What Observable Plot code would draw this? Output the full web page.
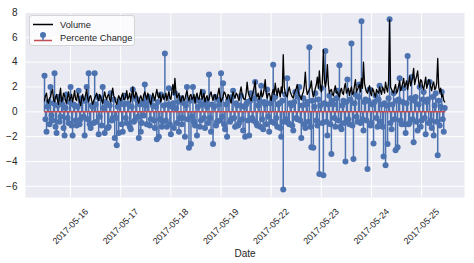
<!DOCTYPE html>
<html><head><meta charset="utf-8">
<script src="https://cdn.jsdelivr.net/npm/d3@7"></script>
<script src="https://cdn.jsdelivr.net/npm/@observablehq/plot@0.6"></script>
<style>
body{margin:0;background:#fff;font-family:"Liberation Sans",Arial,sans-serif;}
#wrap{position:relative;width:474px;height:263px;}
#legend{position:absolute;left:29px;top:15px;width:106px;height:31px;background:rgba(255,255,255,0.8);border:1px solid #d4d4d4;border-radius:3px;box-sizing:border-box;font-size:9.3px;color:#262626;}
#legend .row{position:absolute;left:0;height:13px;display:flex;align-items:center;}
#legend svg{display:block;}
#legend span{margin-left:6px;white-space:nowrap;}
</style></head>
<body><div id="wrap"><div id="chart"></div>
<div id="legend">
 <div class="row" style="top:2px;left:2px"><svg width="22" height="13"><line x1="1" x2="21" y1="6.5" y2="6.5" stroke="#000" stroke-width="1.5"/></svg><span>Volume</span></div>
 <div class="row" style="top:15px;left:2px"><svg width="22" height="13"><line x1="2" x2="20" y1="9.5" y2="9.5" stroke="#C44E52" stroke-width="1.5"/><line x1="11" x2="11" y1="9.5" y2="4" stroke="#4C72B0" stroke-width="1.5"/><circle cx="11" cy="4" r="3" fill="#4C72B0"/></svg><span>Percente Change</span></div>
</div></div>
<script>
const dateLabels = ["2017-05-16","2017-05-17","2017-05-18","2017-05-19","2017-05-22","2017-05-23","2017-05-24","2017-05-25"];
const tickPos = [0,1,2,3,4,5,6,7];
const yTicks = [-6,-4,-2,0,2,4,6,8];
const sampleStart = -0.518;
const sampleStep = 0.02;
const pctChange = [
 2.9,-0.6,-1.6,0.4,0.8,-1.0,2.0,-0.3,-0.7,0.7,3.1,-1.2,-1.7,0.5,1.2,-0.8,-0.4,1.0,0.6,-1.3,-1.9,0.3,1.4,-0.5,-0.9,0.8,2.0,-1.1,-1.9,0.6,0.5,-0.7,-1.1,0.4,1.7,-1.0,-0.6,1.1,0.9,-0.4,
 -1.9,0.9,2.0,-0.6,3.1,-1.0,-1.3,0.5,0.4,-0.9,3.1,0.6,-0.8,1.2,-1.8,-0.4,1.1,-1.1,2.0,0.3,-1.7,0.8,0.7,-1.3,-1.2,0.5,1.5,-0.7,-0.5,1.0,-2.1,-0.5,-2.7,0.4,-1.7,0.7,0.9,-1.0,-1.6,0.6,
 1.3,-0.5,-0.9,0.7,0.6,-1.2,-1.4,0.4,1.8,-0.8,-0.7,1.1,1.0,-0.4,-2.1,0.6,-1.6,-0.9,0.8,-0.3,2.2,0.5,-1.0,0.9,1.2,-1.1,-0.6,1.0,0.5,-0.7,-1.3,0.4,-2.2,0.8,-2.0,-0.6,1.4,-1.2,-0.8,0.5,
 4.7,-0.7,-1.2,0.6,1.9,-1.0,-1.8,0.4,0.7,-1.3,1.5,0.3,-0.9,0.8,-1.6,-0.5,1.1,-1.0,-0.5,0.7,-2.0,0.5,2.0,-0.6,-2.9,0.9,-2.6,-0.4,2.0,-0.8,-1.1,1.0,-1.9,0.4,0.9,-1.2,-0.7,0.6,1.6,-0.5,
 -1.3,0.8,0.4,-0.9,3.0,-0.5,-1.6,0.6,-2.6,0.4,1.2,-1.1,-0.8,1.0,0.6,-0.7,3.1,-0.4,2.3,-1.0,-1.4,0.6,-2.0,0.9,1.0,-0.8,-0.6,1.2,1.7,-0.5,-1.2,0.7,0.5,-1.1,-0.9,0.5,1.3,-0.6,-1.5,0.4,
 -2.0,0.6,0.8,-0.7,-1.9,0.9,1.5,-0.5,-0.7,1.1,2.4,-0.9,-1.1,0.5,0.9,-1.2,2.1,-0.6,-1.4,0.8,0.6,-1.0,1.8,-0.4,-1.6,0.7,-0.8,1.0,3.8,-0.9,1.2,-0.5,-1.2,0.6,0.7,-1.3,-2.0,0.9,-6.25,-0.8,
 1.4,-0.6,2.7,-0.9,-1.0,0.7,0.5,-1.1,-1.5,0.8,1.6,-0.5,-0.6,1.2,2.0,-0.7,-2.1,0.5,1.1,-1.0,-1.3,0.6,0.8,-0.8,5.2,-1.2,-2.85,0.9,-2.9,0.4,1.5,-0.7,-1.1,1.0,-5.0,0.5,1.9,-0.9,-5.1,0.7,
 4.9,-0.8,-1.9,0.6,1.3,-1.0,-3.4,0.9,0.6,-0.5,-1.2,1.1,1.7,-0.7,3.75,-1.2,-1.4,0.5,0.9,-0.9,-4.0,0.8,2.6,-0.6,-1.0,1.0,5.5,-1.1,-3.8,0.7,1.4,-0.4,-0.8,1.2,2.2,-0.9,7.3,-0.6,-1.5,0.8,
 1.0,-0.7,-4.6,0.9,1.8,-1.1,-0.9,0.6,-2.55,0.8,1.3,-0.5,-1.2,1.0,2.1,-0.8,0.6,-1.2,-3.6,0.7,-4.3,0.5,-2.6,1.1,7.45,-0.9,-1.4,0.6,1.5,-0.6,-3.1,0.9,-2.85,1.0,2.7,-0.7,-1.0,0.8,1.9,-1.0,
 -1.7,0.7,4.5,-1.0,-0.9,1.1,2.8,-0.6,-2.45,0.9,1.2,-0.8,-1.5,0.6,2.0,-1.2,-0.7,1.0,1.6,-0.5,-1.8,0.8,1.0,-0.9,2.4,-0.7,-1.3,1.2,-1.9,0.5,1.5,-0.8,-3.5,0.9,-1.1,0.4,1.6,-0.6,-1.6,0.3
];
const volume = [
 0.9,1.3,1.5,0.8,0.7,1.1,1.2,1.6,1.8,1.0,0.8,1.2,1.4,0.9,0.6,1.3,1.9,0.8,1.0,1.5,1.3,0.9,0.7,1.2,1.6,0.9,1.1,1.4,0.8,1.2,1.7,1.0,0.9,1.5,1.2,0.8,0.5,1.1,1.4,0.9,
 1.0,1.4,1.8,1.1,0.8,1.2,1.3,0.9,0.6,0.9,1.1,1.3,1.5,1.1,0.9,1.4,1.2,0.9,0.7,1.2,1.6,1.2,1.0,1.3,1.4,1.0,0.8,1.5,1.9,1.3,1.1,0.8,0.6,1.0,1.3,1.1,0.9,1.3,1.5,1.0,
 1.0,1.3,1.7,1.0,1.2,1.5,0.8,1.4,2.0,1.2,1.1,1.6,1.4,0.9,0.7,1.1,1.3,1.0,0.9,1.4,1.6,1.2,1.0,1.5,1.2,0.8,0.6,1.1,1.5,1.2,0.9,1.4,1.8,1.3,1.1,1.5,0.8,1.1,1.4,1.0,
 1.2,1.5,0.9,1.3,1.6,1.1,1.0,1.7,2.2,1.4,2.7,1.6,1.1,1.3,1.5,1.0,0.8,1.2,1.3,0.9,1.0,1.4,1.7,1.2,0.9,1.3,1.4,1.0,1.1,1.4,0.7,1.2,1.5,1.1,1.0,1.4,1.8,1.0,1.2,1.5,
 0.8,1.1,1.3,0.9,1.0,1.4,1.6,1.2,0.9,1.3,1.4,1.0,1.1,1.5,1.9,1.2,0.8,1.0,1.2,1.6,1.5,1.2,1.0,1.4,1.3,1.0,0.7,1.2,1.6,1.3,1.1,1.5,1.4,1.1,0.9,1.6,2.0,1.4,1.2,1.0,
 1.0,1.5,2.4,1.6,1.3,1.1,0.9,1.3,1.6,2.0,2.5,1.4,1.2,1.5,1.0,1.3,1.7,1.2,1.4,1.9,2.6,1.5,1.1,1.4,1.5,1.2,0.9,1.5,1.8,1.4,2.3,1.7,1.3,1.9,1.6,1.2,2.0,1.5,4.6,2.0,
 1.5,1.3,1.2,1.7,2.0,1.6,1.4,1.2,1.1,1.5,1.7,1.9,2.2,1.6,1.3,1.2,1.0,1.4,1.6,2.1,3.2,1.9,1.4,1.6,1.8,2.0,2.5,1.6,1.2,1.5,1.9,2.2,2.8,1.9,3.3,2.1,1.6,2.4,5.0,2.6,
 2.0,2.5,3.8,2.2,1.5,1.7,1.8,1.4,1.3,1.8,2.1,1.5,1.6,1.4,1.2,1.7,1.9,1.5,1.4,2.0,2.3,1.5,1.7,1.9,1.3,1.7,2.0,1.4,1.5,2.1,2.6,1.6,1.8,2.0,2.2,1.6,2.7,1.9,4.0,2.3,
 1.9,1.6,1.5,1.8,2.1,1.5,1.3,1.9,1.7,1.4,1.2,1.8,1.6,1.5,2.0,1.7,1.4,2.0,1.8,1.5,2.4,1.9,1.6,2.4,7.4,2.0,1.8,1.6,1.5,1.9,2.2,1.5,1.7,2.1,2.5,1.7,1.9,2.3,2.7,2.0,
 2.2,2.5,1.8,2.3,2.9,2.1,2.4,2.8,3.5,2.2,2.6,2.9,3.3,2.4,2.0,2.6,2.5,2.0,1.8,2.3,2.8,1.9,2.2,2.6,2.5,2.0,1.7,2.2,2.4,1.8,1.9,2.3,4.3,2.0,1.6,1.9,1.2,1.4,0.9,0.8
];
const data = pctChange.map((p, i) => ({t: sampleStart + i * sampleStep, pct: p, vol: volume[i]}));
const blue = "#4C72B0", red = "#C44E52", ink = "#262626";
const chart = Plot.plot({
  width: 474, height: 263,
  marginLeft: 25, marginRight: 10, marginTop: 12, marginBottom: 66,
  style: {fontFamily: "'Liberation Sans', Arial, sans-serif", background: "transparent"},
  x: {domain: [-0.897, 7.856]},
  y: {domain: [-6.9, 8.0]},
  marks: [
    Plot.frame({fill: "#EAEAF2", stroke: null}),
    Plot.gridX(tickPos, {stroke: "white", strokeOpacity: 1, strokeWidth: 1}),
    Plot.gridY(yTicks, {stroke: "white", strokeOpacity: 1, strokeWidth: 1}),
    Plot.axisY(yTicks, {tickSize: 0, tickPadding: 8, fontSize: 10, color: ink, label: null}),
    Plot.axisX(tickPos, {tickSize: 0, tickPadding: 29, tickRotate: -45, textAnchor: "middle", lineAnchor: "middle", fontSize: 9, color: ink, tickFormat: i => dateLabels[i], label: null}),
    Plot.text(["Date"], {frameAnchor: "bottom", dy: 59, fontSize: 10, fill: ink}),
    Plot.ruleX(data, {x: "t", y1: 0, y2: "pct", stroke: blue, strokeWidth: 1.5}),
    Plot.dot(data, {x: "t", y: "pct", r: 3, fill: blue, stroke: null}),
    Plot.line(data, {x: "t", y: () => 0, stroke: red, strokeWidth: 1.5}),
    Plot.line(data, {x: "t", y: "vol", stroke: "black", strokeWidth: 1.3})
  ]
});
document.getElementById("chart").appendChild(chart);
</script>
</body></html>
